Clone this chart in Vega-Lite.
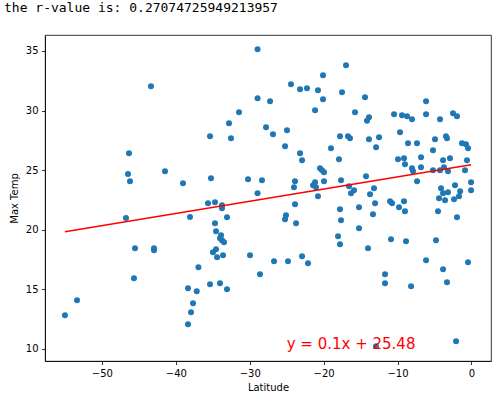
{
  "$schema": "https://vega.github.io/schema/vega-lite/v6.json",
  "autosize": {"type": "none"},
  "padding": {"left": 45, "top": 35, "right": 11, "bottom": 38},
  "width": 446,
  "height": 326,
  "background": "white",
  "title": {
    "text": "the r-value is: 0.27074725949213957",
    "anchor": "start",
    "frame": "group",
    "font": "DejaVu Sans Mono",
    "fontSize": 13,
    "fontWeight": "normal",
    "color": "#000000",
    "dx": -41,
    "offset": 20
  },
  "config": {
    "view": {"stroke": "#000000", "strokeWidth": 0.8},
    "axis": {
      "domainColor": "#000000",
      "domainWidth": 0.8,
      "tickColor": "#000000",
      "tickWidth": 0.8,
      "tickSize": 3.5,
      "labelFont": "DejaVu Sans",
      "labelFontSize": 10,
      "labelColor": "#000000",
      "labelPadding": 3.5,
      "titleFont": "DejaVu Sans",
      "titleFontSize": 10,
      "titleFontWeight": "normal",
      "titleColor": "#000000",
      "grid": false
    }
  },
  "datasets": {
    "pts": [
      {"lat": -55.0, "temp": 12.83}, {"lat": -53.37, "temp": 14.09}, {"lat": -46.74, "temp": 20.99},
      {"lat": -46.33, "temp": 26.42}, {"lat": -46.47, "temp": 24.68}, {"lat": -46.2, "temp": 24.07},
      {"lat": -45.52, "temp": 18.45}, {"lat": -45.66, "temp": 15.93}, {"lat": -43.36, "temp": 32.04},
      {"lat": -42.95, "temp": 18.45}, {"lat": -42.95, "temp": 18.28}, {"lat": -41.46, "temp": 24.91},
      {"lat": -39.03, "temp": 23.9}, {"lat": -38.08, "temp": 21.07}, {"lat": -38.35, "temp": 15.09},
      {"lat": -37.17, "temp": 14.84}, {"lat": -37.67, "temp": 13.83}, {"lat": -37.94, "temp": 13.08},
      {"lat": -38.35, "temp": 12.07}, {"lat": -36.94, "temp": 16.85}, {"lat": -35.64, "temp": 22.22},
      {"lat": -34.7, "temp": 22.31}, {"lat": -33.75, "temp": 22.06}, {"lat": -33.75, "temp": 21.8},
      {"lat": -33.07, "temp": 21.05}, {"lat": -34.7, "temp": 20.55}, {"lat": -34.56, "temp": 19.87},
      {"lat": -33.88, "temp": 19.54}, {"lat": -34.02, "temp": 19.29}, {"lat": -33.75, "temp": 19.12},
      {"lat": -33.48, "temp": 18.95}, {"lat": -34.56, "temp": 18.36}, {"lat": -34.97, "temp": 18.11},
      {"lat": -33.61, "temp": 17.86}, {"lat": -34.42, "temp": 17.69}, {"lat": -35.37, "temp": 15.43},
      {"lat": -34.02, "temp": 15.51}, {"lat": -33.07, "temp": 15.01}, {"lat": -35.37, "temp": 27.84},
      {"lat": -35.24, "temp": 24.32}, {"lat": -32.8, "temp": 28.93}, {"lat": -32.53, "temp": 27.68},
      {"lat": -31.45, "temp": 29.86}, {"lat": -30.23, "temp": 24.24}, {"lat": -29.96, "temp": 17.86},
      {"lat": -28.94, "temp": 35.14}, {"lat": -28.94, "temp": 31.03}, {"lat": -28.34, "temp": 24.15},
      {"lat": -28.94, "temp": 23.06}, {"lat": -28.61, "temp": 16.27}, {"lat": -27.25, "temp": 30.78},
      {"lat": -27.79, "temp": 28.6}, {"lat": -26.85, "temp": 28.01}, {"lat": -26.71, "temp": 17.36},
      {"lat": -24.95, "temp": 28.35}, {"lat": -25.22, "temp": 27.0}, {"lat": -25.22, "temp": 20.88},
      {"lat": -25.09, "temp": 21.22}, {"lat": -24.82, "temp": 17.36}, {"lat": -24.41, "temp": 32.21},
      {"lat": -23.19, "temp": 31.79}, {"lat": -22.25, "temp": 31.87}, {"lat": -20.76, "temp": 31.7},
      {"lat": -20.08, "temp": 32.96}, {"lat": -20.08, "temp": 30.95}, {"lat": -21.16, "temp": 30.03},
      {"lat": -23.19, "temp": 26.42}, {"lat": -22.92, "temp": 25.83}, {"lat": -23.87, "temp": 24.07},
      {"lat": -24.01, "temp": 23.57}, {"lat": -23.73, "temp": 20.55}, {"lat": -23.87, "temp": 22.14},
      {"lat": -22.92, "temp": 17.78}, {"lat": -22.11, "temp": 17.19}, {"lat": -21.43, "temp": 23.73},
      {"lat": -21.16, "temp": 23.98}, {"lat": -21.03, "temp": 23.57}, {"lat": -20.76, "temp": 22.81},
      {"lat": -20.49, "temp": 25.16}, {"lat": -20.22, "temp": 24.99}, {"lat": -19.95, "temp": 24.82},
      {"lat": -19.95, "temp": 24.07}, {"lat": -19.0, "temp": 26.84}, {"lat": -17.92, "temp": 25.91},
      {"lat": -17.65, "temp": 24.15}, {"lat": -17.78, "temp": 27.84}, {"lat": -17.51, "temp": 31.54},
      {"lat": -16.97, "temp": 33.8}, {"lat": -16.7, "temp": 27.84}, {"lat": -16.43, "temp": 27.68},
      {"lat": -16.56, "temp": 23.65}, {"lat": -15.89, "temp": 23.31}, {"lat": -16.29, "temp": 23.06},
      {"lat": -17.78, "temp": 21.72}, {"lat": -17.65, "temp": 20.8}, {"lat": -18.05, "temp": 19.45},
      {"lat": -17.78, "temp": 18.78}, {"lat": -15.75, "temp": 29.86}, {"lat": -15.21, "temp": 21.89},
      {"lat": -15.21, "temp": 20.13}, {"lat": -14.4, "temp": 31.12}, {"lat": -14.26, "temp": 24.49},
      {"lat": -13.86, "temp": 29.44}, {"lat": -14.13, "temp": 29.15}, {"lat": -13.86, "temp": 27.59},
      {"lat": -13.72, "temp": 22.98}, {"lat": -13.18, "temp": 23.48}, {"lat": -12.9, "temp": 26.92},
      {"lat": -12.5, "temp": 27.76}, {"lat": -13.04, "temp": 22.22}, {"lat": -13.32, "temp": 21.3},
      {"lat": -13.99, "temp": 18.45}, {"lat": -12.91, "temp": 10.23}, {"lat": -11.69, "temp": 16.27},
      {"lat": -11.69, "temp": 15.51}, {"lat": -11.01, "temp": 22.39}, {"lat": -10.74, "temp": 22.22},
      {"lat": -10.88, "temp": 19.2}, {"lat": -10.47, "temp": 29.69}, {"lat": -9.93, "temp": 25.91},
      {"lat": -9.8, "temp": 21.89}, {"lat": -9.66, "temp": 28.18}, {"lat": -9.39, "temp": 29.61},
      {"lat": -9.12, "temp": 26.0}, {"lat": -8.99, "temp": 25.5}, {"lat": -9.12, "temp": 22.39},
      {"lat": -8.99, "temp": 21.55}, {"lat": -8.85, "temp": 19.03}, {"lat": -8.71, "temp": 29.52},
      {"lat": -8.58, "temp": 27.26}, {"lat": -8.17, "temp": 15.26}, {"lat": -8.04, "temp": 29.27},
      {"lat": -8.04, "temp": 25.16}, {"lat": -7.9, "temp": 24.91}, {"lat": -7.36, "temp": 27.26},
      {"lat": -7.36, "temp": 24.07}, {"lat": -6.82, "temp": 26.08}, {"lat": -6.82, "temp": 25.24},
      {"lat": -6.14, "temp": 30.78}, {"lat": -6.14, "temp": 29.69}, {"lat": -6.14, "temp": 17.44},
      {"lat": -5.2, "temp": 26.67}, {"lat": -5.2, "temp": 24.99}, {"lat": -4.93, "temp": 27.59},
      {"lat": -4.79, "temp": 19.12}, {"lat": -4.52, "temp": 21.55}, {"lat": -4.38, "temp": 22.64},
      {"lat": -4.25, "temp": 29.27}, {"lat": -4.25, "temp": 24.99}, {"lat": -4.11, "temp": 23.48},
      {"lat": -3.84, "temp": 23.06}, {"lat": -3.84, "temp": 25.83}, {"lat": -3.84, "temp": 16.69},
      {"lat": -3.71, "temp": 25.24}, {"lat": -3.57, "temp": 22.47}, {"lat": -3.44, "temp": 27.84},
      {"lat": -3.3, "temp": 27.68}, {"lat": -3.3, "temp": 15.6}, {"lat": -3.17, "temp": 24.91},
      {"lat": -3.17, "temp": 23.15}, {"lat": -2.9, "temp": 26.0}, {"lat": -2.49, "temp": 29.77},
      {"lat": -2.35, "temp": 22.56}, {"lat": -2.22, "temp": 23.73}, {"lat": -2.08, "temp": 10.65},
      {"lat": -1.95, "temp": 29.52}, {"lat": -1.95, "temp": 21.05}, {"lat": -1.68, "temp": 22.81},
      {"lat": -1.53, "temp": 23.23}, {"lat": -1.27, "temp": 27.26}, {"lat": -0.87, "temp": 24.99},
      {"lat": -0.73, "temp": 27.17}, {"lat": -0.6, "temp": 25.83}, {"lat": -0.46, "temp": 26.84},
      {"lat": -0.46, "temp": 17.27}, {"lat": -0.05, "temp": 23.98}, {"lat": -0.05, "temp": 23.31}
    ],
    "fit": [
      {"lat": -55.0, "temp": 19.84},
      {"lat": -0.05, "temp": 25.46}
    ],
    "label": [
      {"lat": -25, "temp": 10, "text": "y = 0.1x + 25.48"}
    ]
  },
  "layer": [
    {
      "data": {"name": "pts"},
      "mark": {"type": "circle", "size": 36, "color": "#1f77b4", "opacity": 1},
      "encoding": {
        "x": {
          "field": "lat", "type": "quantitative",
          "scale": {"domain": [-57.7, 2.65], "nice": false, "zero": false},
          "axis": {"values": [-50, -40, -30, -20, -10, 0], "title": "Latitude", "titlePadding": 4}
        },
        "y": {
          "field": "temp", "type": "quantitative",
          "scale": {"domain": [8.99, 36.34], "nice": false, "zero": false},
          "axis": {"values": [10, 15, 20, 25, 30, 35], "title": "Max Temp", "titlePadding": 6}
        }
      }
    },
    {
      "data": {"name": "fit"},
      "mark": {"type": "line", "color": "#ff0000", "strokeWidth": 1.5},
      "encoding": {
        "x": {"field": "lat", "type": "quantitative"},
        "y": {"field": "temp", "type": "quantitative"}
      }
    },
    {
      "data": {"name": "label"},
      "mark": {"type": "text", "color": "#ff0000", "font": "DejaVu Sans", "fontSize": 15, "align": "left", "baseline": "alphabetic"},
      "encoding": {
        "x": {"field": "lat", "type": "quantitative"},
        "y": {"field": "temp", "type": "quantitative"},
        "text": {"field": "text"}
      }
    }
  ]
}
